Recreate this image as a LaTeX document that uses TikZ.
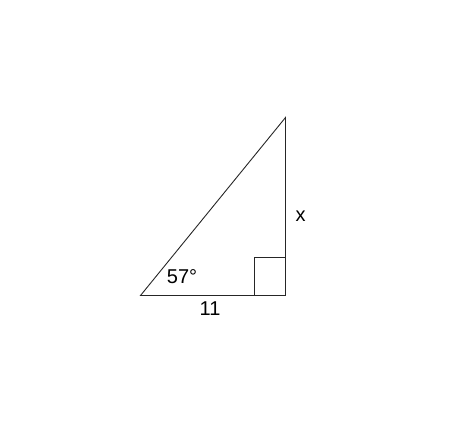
\documentclass[tikz,border=0pt]{standalone}
\usepackage{fontspec}
\setmainfont{Liberation Sans}
\begin{document}
\begin{tikzpicture}[x=1pt,y=-1pt,
  edge/.style={draw=black!85,line width=0.9pt},
  lbl/.style={font=\fontsize{20}{23}\selectfont,inner sep=0pt}]
\useasboundingbox (0,0) rectangle (450,445);
\coordinate (A) at (140.5,295.5);
\coordinate (B) at (285.5,295.5);
\coordinate (C) at (285.5,117.5);
\draw[edge] (A) -- (B) -- (C) -- cycle;
\coordinate (S1) at (254.5,295.5);
\coordinate (S2) at (254.5,257.5);
\coordinate (S3) at (285.5,257.5);
\draw[edge] (S1) -- (S2) -- (S3);
\node[lbl] (x) at (300.5,216) {x};
\node[lbl] (ang) at (182,277) {57°};
\node[lbl] (b) at (210,309) {11};
\end{tikzpicture}
\end{document}
